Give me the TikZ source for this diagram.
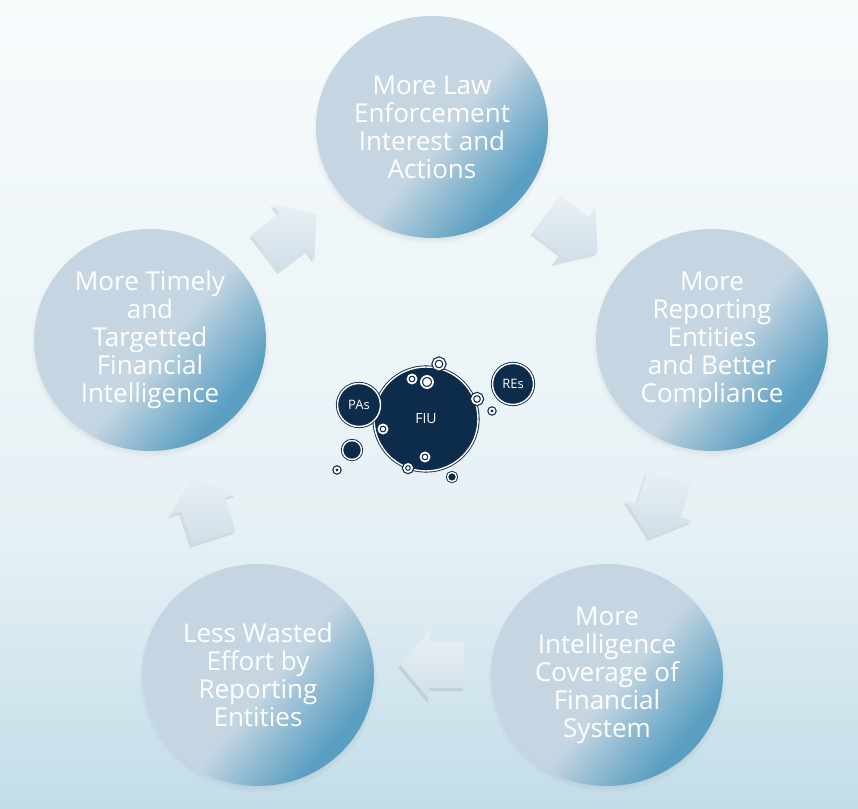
\documentclass[tikz,border=0pt]{standalone}
\usepackage{fontspec}
\setmainfont{Open Sans}
\usetikzlibrary{shapes.geometric,shadows,calc}
\definecolor{navy}{HTML}{0D2B4A}
\definecolor{cA}{HTML}{C5D6E2}
\definecolor{cM}{HTML}{97BED4}
\definecolor{cB}{HTML}{5A9FC2}
\definecolor{bgT}{HTML}{F7FBFC}
\definecolor{bgM}{HTML}{E6F1F5}
\definecolor{bgB}{HTML}{C2DDE8}
\definecolor{arrT}{HTML}{E9F0F5}
\definecolor{arrB}{HTML}{D0DEE8}
\pgfdeclareverticalshading{bgshade}{100bp}{color(0bp)=(bgB); color(25bp)=(bgB); color(42bp)=(bgM); color(75bp)=(bgT); color(100bp)=(bgT)}
\pgfdeclarehorizontalshading{bubble}{100bp}{color(0bp)=(cA); color(53bp)=(cA); color(61bp)=(cM); color(72bp)=(cB); color(100bp)=(cB)}
\tikzset{
  bubblenode/.style={ellipse, minimum width=232pt, minimum height=222pt, inner sep=0pt,
    shade, shading=bubble, shading angle=-40, text=white, align=center,
    font=\fontsize{26}{28}\selectfont,
    circular drop shadow={shadow xshift=0pt, shadow yshift=-3pt, shadow scale=1.03, opacity=0.35}},
  arrowfill/.style={top color=arrT, bottom color=arrB},
  arrowshadow/.style={fill=gray, opacity=0.2},
  bigdot/.style={circle, fill=navy, draw=navy, double=white, double distance=1.4pt,
    line width=0.9pt, inner sep=0pt, text=white},
  ringdot/.style={circle, fill=white, draw=navy, double=white, double distance=1.8pt,
    line width=1.2pt, inner sep=0pt, minimum size=#1},
}
% block arrow pointing along +x, centred at origin
\newcommand{\blockarrowpath}{(-32,-23) -- (3,-23) -- (3,-35) -- (32,0) -- (3,35) -- (3,23) -- (-32,23) -- cycle}
\newcommand{\drawblockarrow}[2]{%
  \fill[arrowshadow, shift={#1}, xshift=-2pt, yshift=-3pt, rotate=#2] \blockarrowpath;
  \shade[arrowfill, shift={#1}, rotate=#2] \blockarrowpath;}
\begin{document}
\begin{tikzpicture}[x=1pt,y=1pt]
\useasboundingbox (0,0) rectangle (858,808);
\shade[shading=bgshade] (0,0) rectangle (858,808);

% cycle bubbles
\node[bubblenode] (c1) at (432,681) {More Law\\Enforcement\\Interest and\\Actions};
\node[bubblenode] (c2) at (712,468) {More\\Reporting\\Entities\\and Better\\Compliance};
\node[bubblenode] (c3) at (607,133) {More\\Intelligence\\Coverage of\\Financial\\System};
\node[bubblenode] (c4) at (258,133) {Less Wasted\\Effort by\\Reporting\\Entities};
\node[bubblenode] (c5) at (150,468) {More Timely\\and\\Targetted\\Financial\\Intelligence};

% block arrows between bubbles
\coordinate (m1) at ($(c5)!0.5!(c1)$);
\coordinate (m2) at ($(c1)!0.5!(c2)$);
\coordinate (m3) at ($(c2)!0.5!(c3)$);
\coordinate (m4) at ($(c3)!0.5!(c4)+(0,10)$);
\coordinate (m5) at ($(c4)!0.5!(c5)$);
\drawblockarrow{(m1)}{37.1}
\drawblockarrow{(m2)}{-37.3}
\drawblockarrow{(m3)}{-107.4}
\drawblockarrow{(m4)}{180}
\drawblockarrow{(m5)}{107.9}

% central cluster
\node[bigdot, minimum size=104pt, font=\fontsize{14}{16}\selectfont] (fiu) at (426,389) {FIU};
\node[bigdot, minimum size=43pt, font=\fontsize{13}{15}\selectfont] (pas) at (359,403) {PAs};
\node[bigdot, minimum size=41pt, font=\fontsize{13}{15}\selectfont] (res) at (513,424) {REs};
\node[bigdot, minimum size=19pt] (d1) at (352,358) {};
\node[bigdot, minimum size=9pt] (d2) at (452,331) {};
\node[ringdot=11pt] (r1) at (439,444) {};
\node[ringdot=9pt] (r2) at (412,429) {};
\node[ringdot=12pt] (r3) at (427,426) {};
\node[ringdot=10pt] (r4) at (477,409) {};
\node[ringdot=9pt] (r5) at (383,379) {};
\node[ringdot=9pt] (r6) at (425,351) {};
\node[ringdot=8pt] (r7) at (408,340) {};
\node[ringdot=5pt] (r8) at (337,338) {};
\node[ringdot=5pt] (r9) at (492,397) {};
\end{tikzpicture}
\end{document}
